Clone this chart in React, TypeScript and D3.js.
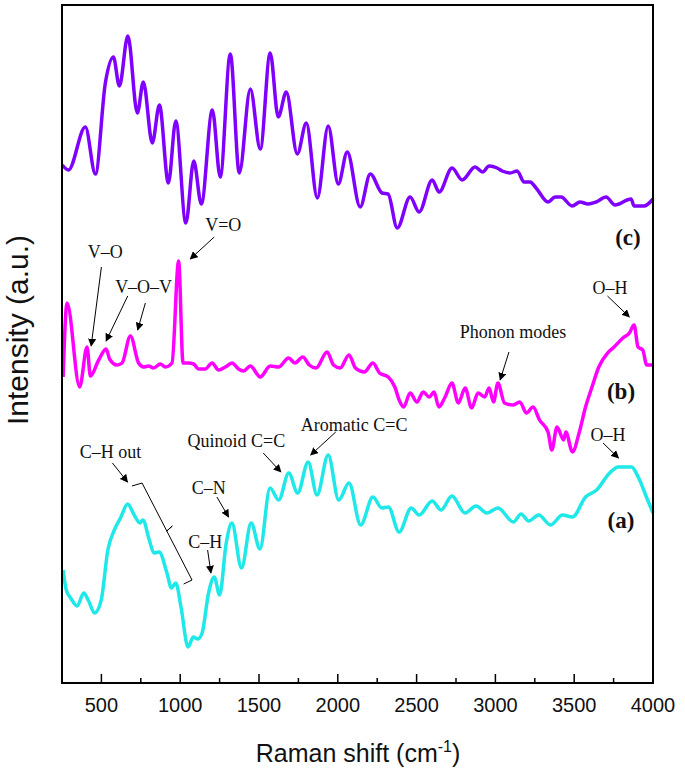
import * as d3 from "d3";

// Raman spectra, [shift in cm-1, intensity in a.u. (offset per trace)]
const spectrumC: [number, number][] = [
  [252, 518], [291, 513], [398, 556], [462, 509], [525, 600], [576, 626], [614, 597],
  [668, 647], [728, 570], [766, 601], [823, 540], [868, 578], [925, 500], [972, 562],
  [1036, 460], [1086, 522], [1134, 479], [1204, 573], [1254, 506], [1318, 629],
  [1375, 510], [1445, 594], [1508, 534], [1571, 630], [1622, 566], [1673, 591],
  [1743, 529], [1800, 560], [1870, 485], [1939, 557], [2003, 499], [2060, 531],
  [2142, 476], [2206, 509], [2281, 490], [2319, 489], [2377, 455], [2459, 486],
  [2516, 471], [2599, 503], [2643, 491], [2725, 515], [2789, 503], [2871, 516],
  [2919, 511], [2960, 517], [3011, 515], [3043, 512], [3093, 510], [3138, 512],
  [3182, 501], [3220, 501], [3258, 495], [3334, 481], [3379, 486], [3417, 486],
  [3487, 477], [3537, 481], [3588, 479], [3639, 481], [3702, 486], [3759, 478],
  [3861, 484], [3880, 477], [3943, 477], [4000, 484],
];

const spectrumB: [number, number][] = [
  [257, 306], [282, 380], [362, 296], [409, 336], [430, 307], [483, 323], [530, 334],
  [552, 324], [599, 318], [631, 320], [684, 347], [736, 320], [768, 316], [800, 317],
  [831, 315], [874, 319], [906, 316], [948, 320], [990, 422], [1018, 320], [1053, 320],
  [1085, 319], [1117, 314], [1159, 314], [1202, 320], [1244, 313], [1286, 316],
  [1329, 320], [1370, 314], [1402, 312], [1445, 317], [1508, 306], [1571, 317],
  [1624, 316], [1688, 325], [1728, 320], [1778, 326], [1819, 318], [1862, 315],
  [1932, 331], [1973, 318], [2015, 315], [2071, 328], [2112, 315], [2168, 311],
  [2223, 320], [2265, 310], [2320, 306], [2362, 296], [2389, 283], [2418, 276],
  [2459, 290], [2502, 281], [2542, 291], [2580, 286], [2611, 291], [2641, 276],
  [2681, 286], [2724, 300], [2765, 280], [2808, 295], [2849, 275], [2890, 290],
  [2932, 286], [2960, 295], [2988, 281], [3016, 300], [3058, 280], [3112, 278],
  [3155, 281], [3197, 270], [3239, 276], [3280, 263], [3334, 251], [3358, 233],
  [3391, 256], [3433, 243], [3447, 251], [3489, 231], [3531, 250], [3572, 276],
  [3613, 296], [3656, 316], [3712, 330], [3753, 336], [3809, 345], [3850, 350],
  [3880, 358], [3905, 336], [3935, 333], [3960, 318], [4000, 318],
];

const spectrumA: [number, number][] = [
  [257, 113], [277, 93], [305, 85], [346, 77], [388, 90], [416, 83], [457, 70],
  [499, 83], [541, 133], [582, 153], [624, 166], [666, 179], [708, 168], [744, 160],
  [763, 163], [804, 143], [833, 130], [866, 131], [916, 110], [944, 95], [972, 100],
  [1005, 76], [1050, 36], [1083, 46], [1111, 44], [1139, 50], [1180, 90], [1216, 106],
  [1250, 88], [1292, 140], [1328, 160], [1389, 115], [1450, 160], [1506, 134],
  [1570, 195], [1625, 183], [1689, 210], [1745, 190], [1812, 221], [1868, 188],
  [1939, 228], [2006, 183], [2071, 200], [2145, 158], [2223, 186], [2279, 175],
  [2321, 176], [2389, 151], [2466, 175], [2516, 168], [2599, 182], [2655, 173],
  [2724, 187], [2807, 170], [2877, 177], [2946, 170], [3016, 175], [3114, 161],
  [3163, 169], [3211, 162], [3275, 168], [3350, 158], [3425, 168], [3489, 166],
  [3572, 186], [3642, 193], [3725, 210], [3781, 216], [3864, 216], [3906, 206],
  [3961, 185], [4000, 170],
];

const majorTicks = [500, 1000, 1500, 2000, 2500, 3000, 3500, 4000];
const minorTicks = [750, 1250, 1750, 2250, 2750, 3250, 3750];

// band assignments: label position, arrow start, arrow end (data coords)
const bandLabels = [
  { text: "V=O", at: [1273, 458], from: [1216, 446], to: [1064, 424] },
  { text: "V\u2013O", at: [525, 431], from: [500, 416], to: [435, 337] },
  { text: "V\u2013O\u2013V", at: [768, 396], from: [667, 387], to: [530, 342] },
  { text: "", at: [0, 0], from: [779, 380], to: [730, 353] },
  { text: "Phonon modes", at: [3112, 351], from: [3086, 331], to: [3030, 303] },
  { text: "O\u2013H", at: [3727, 395], from: [3711, 387], to: [3850, 366] },
  { text: "O\u2013H", at: [3715, 248], from: [3683, 240], to: [3781, 225] },
  { text: "Aromatic C=C", at: [2104, 258], from: [1987, 251], to: [1828, 228] },
  { text: "Quinoid C=C", at: [1356, 242], from: [1527, 230], to: [1639, 211] },
  { text: "C\u2013H out", at: [557, 231], from: [570, 220], to: [666, 201] },
  { text: "C\u2013N", at: [1181, 195], from: [1233, 186], to: [1307, 166] },
  { text: "C\u2013H", at: [1159, 141], from: [1174, 133], to: [1195, 110] },
];

const bracket: [number, number][] = [
  [694, 197], [758, 200], [915, 152], [950, 157], [915, 152], [1075, 103], [1022, 99],
];

const traceLabels = [
  { text: "(c)", at: [3841, 446] },
  { text: "(b)", at: [3797, 292] },
  { text: "(a)", at: [3797, 163] },
];

const W = 685;
const H = 778;
const margin = { top: 5, right: 32, bottom: 95, left: 62 };

export default function App() {
  const x = d3.scaleLinear().domain([250, 4000]).range([margin.left, W - margin.right]);
  const y = d3.scaleLinear().domain([0, 678]).range([H - margin.bottom, margin.top]);

  const line = d3
    .line<[number, number]>()
    .x((d) => x(d[0]))
    .y((d) => y(d[1]))
    .curve(d3.curveMonotoneX);

  const bottom = H - margin.bottom;
  const serif = "'Liberation Serif', 'Times New Roman', serif";
  const sans = "'Liberation Sans', Arial, sans-serif";

  return (
    <svg
      width={W}
      height={H}
      style={{ position: "absolute", left: 0, top: 0, background: "#fff" }}
    >
      <defs>
        <marker
          id="arrow"
          viewBox="0 0 10 10"
          refX="9"
          refY="5"
          markerWidth="8"
          markerHeight="8"
          markerUnits="userSpaceOnUse"
          orient="auto"
        >
          <path d="M0,0 L10,5 L0,10 z" fill="#000" />
        </marker>
      </defs>

      {/* spectra */}
      <path d={line(spectrumC) || ""} fill="none" stroke="#8000ff" strokeWidth={3.5} />
      <path d={line(spectrumB) || ""} fill="none" stroke="#ff00ff" strokeWidth={3.5} />
      <path d={line(spectrumA) || ""} fill="none" stroke="#1ee8e8" strokeWidth={3.5} />

      {/* frame */}
      <rect
        x={margin.left}
        y={margin.top}
        width={W - margin.left - margin.right}
        height={bottom - margin.top}
        fill="none"
        stroke="#000"
        strokeWidth={2}
      />

      {/* x ticks */}
      {majorTicks.map((t) => (
        <g key={t}>
          <line x1={x(t)} x2={x(t)} y1={bottom} y2={bottom - 9} stroke="#000" strokeWidth={1.5} />
          <text
            x={x(t)}
            y={bottom + 29}
            textAnchor="middle"
            fontFamily={sans}
            fontSize={20}
            fill="#111"
          >
            {t}
          </text>
        </g>
      ))}
      {minorTicks.map((t) => (
        <line key={t} x1={x(t)} x2={x(t)} y1={bottom} y2={bottom - 5} stroke="#000" strokeWidth={1.5} />
      ))}

      {/* axis titles */}
      <text x={358} y={762} textAnchor="middle" fontFamily={sans} fontSize={25} fill="#111">
        Raman shift (cm
        <tspan dy={-10} fontSize={16}>-1</tspan>
        <tspan dy={10}>)</tspan>
      </text>
      <text
        transform="translate(28,330) rotate(-90)"
        textAnchor="middle"
        fontFamily={sans}
        fontSize={30}
        fill="#111"
      >
        Intensity (a.u.)
      </text>

      {/* band annotations */}
      {bandLabels.map((b, i) => (
        <g key={i}>
          {b.text && (
            <text
              x={x(b.at[0])}
              y={y(b.at[1]) + 6}
              textAnchor="middle"
              fontFamily={serif}
              fontSize={18}
              fill="#111"
            >
              {b.text}
            </text>
          )}
          <line
            x1={x(b.from[0])}
            y1={y(b.from[1])}
            x2={x(b.to[0])}
            y2={y(b.to[1])}
            stroke="#000"
            strokeWidth={1}
            markerEnd="url(#arrow)"
          />
        </g>
      ))}
      <path
        d={d3.line<[number, number]>().x((d) => x(d[0])).y((d) => y(d[1]))(bracket) || ""}
        fill="none"
        stroke="#000"
        strokeWidth={1}
      />

      {/* trace labels */}
      {traceLabels.map((l) => (
        <text
          key={l.text}
          x={x(l.at[0])}
          y={y(l.at[1]) + 8}
          textAnchor="middle"
          fontFamily={serif}
          fontWeight="bold"
          fontSize={23}
          fill="#111"
        >
          {l.text}
        </text>
      ))}
    </svg>
  );
}
